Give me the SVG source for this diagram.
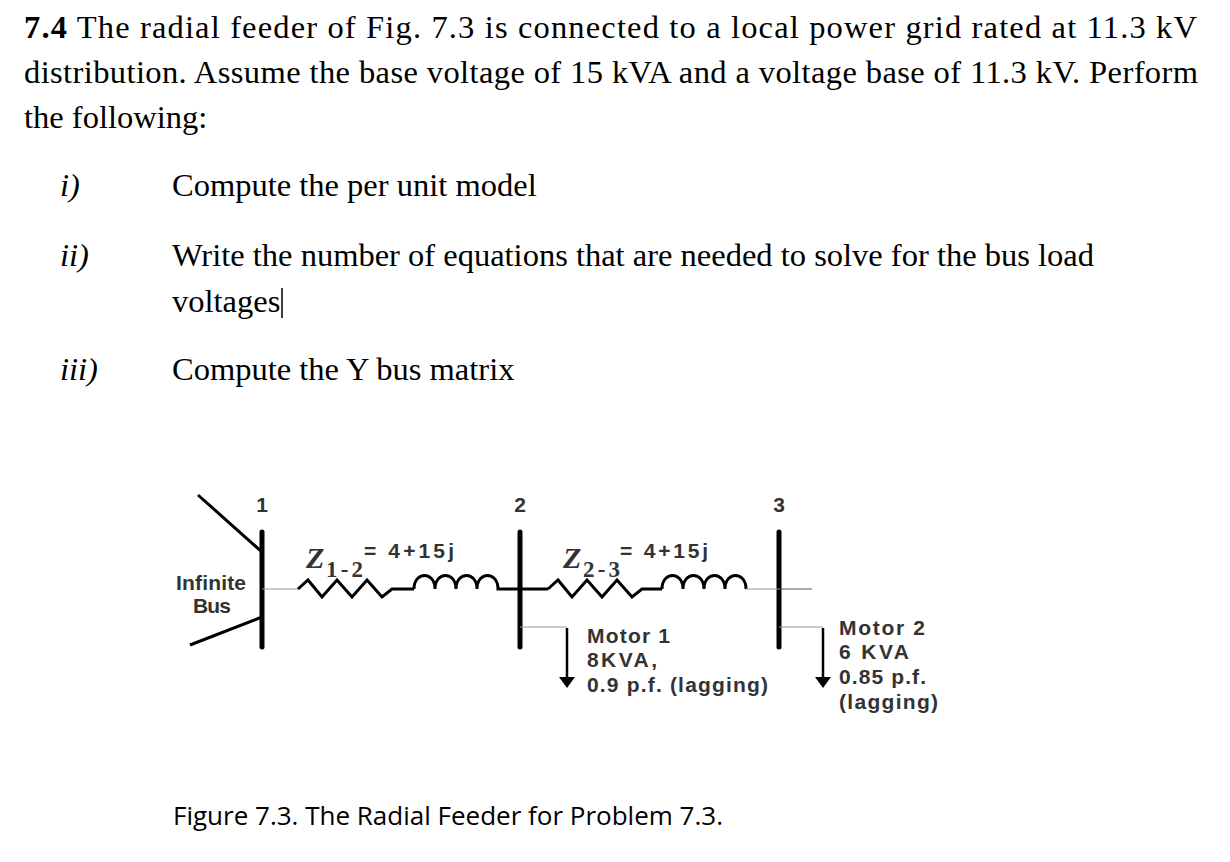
<svg xmlns="http://www.w3.org/2000/svg" width="1230" height="862" viewBox="0 0 1230 862">
<style>
.t{font-family:"Liberation Serif",serif;font-size:32.5px;fill:#000}
.i{font-style:italic}
.d{font-family:"Liberation Sans",Arial,sans-serif;font-weight:700;font-size:21px;fill:#333}
.z{font-family:"Liberation Serif",serif;font-style:italic;font-weight:700;font-size:30px;fill:#333}
.s{font-family:"Liberation Serif",serif;font-weight:700;font-size:23px;fill:#333}
.bus{stroke:#000;stroke-width:5;stroke-linecap:round}
.w{fill:none;stroke:#000;stroke-width:3}
.g{fill:none;stroke:#999;stroke-width:1.2}
.ah{fill:#000}
</style>
<text class="t" x="24" y="38" textLength="1173" lengthAdjust="spacing"><tspan font-weight="bold">7.4</tspan> The radial feeder of Fig. 7.3 is connected to a local power grid rated at 11.3 kV</text>
<text class="t" x="24" y="83" textLength="1174" lengthAdjust="spacing">distribution. Assume the base voltage of 15 kVA and a voltage base of 11.3 kV. Perform</text>
<text class="t" x="24" y="128">the following:</text>
<text class="t i" x="60" y="196">i)</text>
<text class="t" x="172" y="196">Compute the per unit model</text>
<text class="t i" x="60" y="266">ii)</text>
<text class="t" x="172" y="266">Write the number of equations that are needed to solve for the bus load</text>
<text class="t" x="172" y="312">voltages</text>
<line x1="282" y1="288" x2="282" y2="318" stroke="#000" stroke-width="1.5"/>
<text class="t i" x="60" y="380">iii)</text>
<text class="t" x="172" y="380">Compute the Y bus matrix</text>
<g id="infinite-bus">
<line class="w" x1="198" y1="495" x2="262" y2="552"/>
<line class="w" x1="190" y1="645" x2="262" y2="617"/>
<text class="d" x="176" y="590" textLength="70" font-size="19">Infinite</text>
<text class="d" x="193" y="613" textLength="38" font-size="19">Bus</text>
</g>
<g id="bus1"><line class="bus" x1="262" y1="532" x2="262" y2="647"/><text class="d" x="262" y="512" text-anchor="middle">1</text></g>
<g id="bus2"><line class="bus" x1="520" y1="532" x2="520" y2="647"/><text class="d" x="520" y="512" text-anchor="middle">2</text></g>
<g id="bus3"><line class="bus" x1="779" y1="532" x2="779" y2="647"/><text class="d" x="779" y="512" text-anchor="middle">3</text></g>
<g id="connectors">
<line class="g" x1="262" y1="589" x2="298" y2="589"/>
<path class="w" d="M298,589 L308,580 L322,597 L337,580 L352,597 L367,580 L382,597 L392,589 L414,589"/>
<path class="w" d="M414,589 c0,-18 21,-18 21,0 c0,-18 21,-18 21,0 c0,-18 21,-18 21,0 c0,-18 21,-18 21,0 L548,589"/>
<path class="w" d="M548,589 L558,580 L572,597 L587,580 L602,597 L617,580 L632,597 L642,589 L662,589"/>
<path class="w" d="M662,589 c0,-18 21,-18 21,0 c0,-18 21,-18 21,0 c0,-18 21,-18 21,0 c0,-18 21,-18 21,0"/>
<line class="g" x1="746" y1="589" x2="779" y2="589"/>
<line x1="779" y1="589" x2="812" y2="589" stroke="#555" stroke-width="1.2"/>
<line class="g" x1="520" y1="627" x2="567" y2="627"/>
<line x1="567" y1="628" x2="567" y2="678" stroke="#000" stroke-width="2.5"/>
<polygon class="ah" points="559,677 575,677 567,688"/>
<line class="g" x1="779" y1="627" x2="823" y2="627"/>
<line x1="823" y1="628" x2="823" y2="678" stroke="#000" stroke-width="2.5"/>
<polygon class="ah" points="815,677 831,677 823,688"/>
</g>
<g id="z12"><text class="z" x="306" y="568">Z</text><text class="s" x="326" y="577" textLength="37">1-2</text><text class="d" x="364" y="558" font-size="23" textLength="90">= 4+15j</text></g>
<g id="z23"><text class="z" x="563" y="568">Z</text><text class="s" x="583" y="577" textLength="37">2-3</text><text class="d" x="620" y="558" font-size="23" textLength="88">= 4+15j</text></g>
<g id="motor1"><text class="d" x="587" y="643" textLength="83">Motor 1</text><text class="d" x="587" y="667" textLength="70">8KVA,</text><text class="d" x="587" y="692" textLength="181">0.9 p.f. (lagging)</text></g>
<g id="motor2"><text class="d" x="839" y="635" textLength="86">Motor 2</text><text class="d" x="839" y="659" textLength="70">6 KVA</text><text class="d" x="839" y="684" textLength="87">0.85 p.f.</text><text class="d" x="839" y="709" textLength="99">(lagging)</text></g>
<text x="173" y="825" font-family="Open Sans,Liberation Sans,sans-serif" font-size="26" fill="#000">Figure 7.3. The Radial Feeder for Problem 7.3.</text>
</svg>
